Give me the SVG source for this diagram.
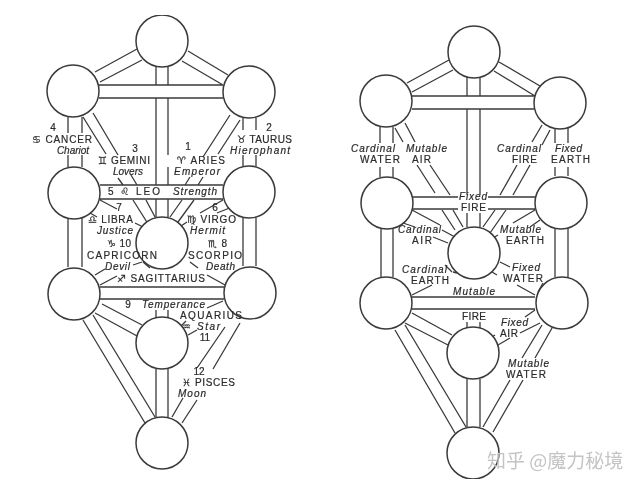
<svg xmlns="http://www.w3.org/2000/svg" width="640" height="488" viewBox="0 0 640 488">
<style>
.bg{fill:#fff}
.n{fill:#fff;stroke:#3a3a3a;stroke-width:1.5}
.c{fill:none;stroke:#3a3a3a;stroke-width:1.3}
text{font-family:"Liberation Sans","DejaVu Sans",sans-serif;font-size:10px;fill:#2a2a2a;stroke:#2a2a2a;stroke-width:.2}
.i{font-style:italic}
.m{text-anchor:middle}
.wm{font-family:"Noto Sans CJK SC",sans-serif;font-size:19px;fill:#c4c4c4;stroke:none}
</style>
<defs><filter id="soft" x="0" y="0" width="100%" height="100%"><feGaussianBlur stdDeviation="0.55"/></filter></defs>
<rect class="bg" width="640" height="488"/>
<g filter="url(#soft)">
<g id="connectors">
<path class="c" d="M95 72L137 49M100 82L142 60M188 51L228 75M182 61L223 85M99 85H223M99 98H223M156 66V85M168 66V85M156 98V185M168 98V155M168 167V185M156 199V217M168 199V217"/>
<path class="c" d="M68 117V133M82 117V133M68 155V167M82 155V167M243 118V130M256 118V130M243 155V166M256 155V166"/>
<path class="c" d="M83 117L106 154M93 113L118 155M118 178L123 185M131 175L137 185M133 200L150 227M146 200L155 217M240 120L218 154M230 115L203 157M203 177L198 185M190 177L185 185M194 200L178 222M182 200L170 217"/>
<path class="c" d="M100 185H223M100 199H223M68 218V267M82 218V267M243 218V266M256 218V266M100 200L117 209M90 213L97 217M135 223L143 227M223 200L200 213M237 205L217 213M187 222L178 228"/>
<path class="c" d="M95 275L105 269M133 265L142 262M100 285L117 276M225 285L207 275M143 262L150 268M190 262L198 268M237 272L232 278M100 287H224M100 299H224M102 304L142 325M95 313L137 336M223 301L207 308M188 335L197 330M181 326L186 321M156 310V318M168 310V318M156 369V417M168 369V417"/>
<path class="c" d="M83 320L145 423M93 315L155 417M240 323L213 369M225 327L197 368M183 398L172 417M197 400L182 423"/>
<path class="c" d="M407 83L449 60M412 92L453 70M499 62L540 86M494 71L535 96M412 96H534M412 109H534M467 77V96M480 77V96M467 109V195M480 109V195M467 213V227M480 213V227"/>
<path class="c" d="M380 127V143M393 127V143M380 167V177M393 167V177M555 127V143M568 127V143M555 167V176M568 167V176"/>
<path class="c" d="M405 123L415 142M430 165L450 195M395 128L403 142M417 165L435 193M442 210L455 230M453 210L463 227M550 130L542 145M542 125L532 142M530 165L513 195M517 165L500 195M506 210L490 233M495 210L483 227"/>
<path class="c" d="M412 197H458M488 197H535M412 209H458M488 209H535M381 228V277M393 228V277M555 228V277M568 228V277M412 210L440 225M400 222L415 227M433 237L448 243M442 230L455 237M535 210L513 223M540 220L530 227M498 235L488 241"/>
<path class="c" d="M412 295L432 285M445 265L452 272M453 272L457 273M500 262L510 267M492 272L497 275M517 285L535 295M538 292L543 283M412 297H535M412 309H535M412 313L452 335M405 323L448 345M535 310L525 317M540 323L520 333M498 345L510 338M495 335L492 337M467 322V330M480 322V330M467 379V427M480 379V427"/>
<path class="c" d="M395 330L455 433M405 325L466 427M552 328L535 358M542 325L522 358M510 380L483 427M523 380L493 432"/>
</g>
<g id="left-top"><circle class="n" cx="162" cy="41" r="26"/></g>
<g id="left-l1"><circle class="n" cx="73" cy="91" r="26"/></g>
<g id="left-r1"><circle class="n" cx="249" cy="92" r="26"/></g>
<g id="left-l2"><circle class="n" cx="74" cy="193" r="26"/></g>
<g id="left-r2"><circle class="n" cx="249" cy="192" r="26"/></g>
<g id="left-center"><circle class="n" cx="162" cy="243" r="26"/></g>
<g id="left-l3"><circle class="n" cx="74" cy="294" r="26"/></g>
<g id="left-r3"><circle class="n" cx="250" cy="293" r="26"/></g>
<g id="left-c4"><circle class="n" cx="162" cy="343" r="26"/></g>
<g id="left-bottom"><circle class="n" cx="162" cy="443" r="26"/></g>
<g id="right-top"><circle class="n" cx="474" cy="52" r="26"/></g>
<g id="right-l1"><circle class="n" cx="386" cy="101" r="26"/></g>
<g id="right-r1"><circle class="n" cx="560" cy="103" r="26"/></g>
<g id="right-l2"><circle class="n" cx="387" cy="203" r="26"/></g>
<g id="right-r2"><circle class="n" cx="561" cy="203" r="26"/></g>
<g id="right-center"><circle class="n" cx="474" cy="253" r="26"/></g>
<g id="right-l3"><circle class="n" cx="386" cy="303" r="26"/></g>
<g id="right-r3"><circle class="n" cx="562" cy="303" r="26"/></g>
<g id="right-c4"><circle class="n" cx="473" cy="353" r="26"/></g>
<g id="right-bottom"><circle class="n" cx="473" cy="453" r="26"/></g>
<g id="labels-left">
<text class="m" x="53" y="131">4</text>
<text x="32" y="143" textLength="60">♋ CANCER</text>
<text class="i m" x="73" y="154">Chariot</text>
<text class="m" x="135" y="152">3</text>
<text x="98" y="164" textLength="52">♊ GEMINI</text>
<text class="i m" x="128" y="175">Lovers</text>
<text class="m" x="188" y="150">1</text>
<text x="177" y="164" textLength="48">♈ ARIES</text>
<text class="i" x="174" y="175" textLength="46">Emperor</text>
<text class="m" x="269" y="131">2</text>
<text x="237" y="143" textLength="55">♉ TAURUS</text>
<text class="i" x="230" y="154" textLength="60">Hierophant</text>
<text x="108" y="195" textLength="52">5  ♌ LEO</text>
<text class="i" x="173" y="195" textLength="44">Strength</text>
<text class="m" x="119" y="211">7</text>
<text x="88" y="223" textLength="45">♎ LIBRA</text>
<text class="i" x="97" y="234" textLength="36">Justice</text>
<text class="m" x="215" y="211">6</text>
<text x="187" y="223" textLength="49">♍ VIRGO</text>
<text class="i" x="190" y="234" textLength="35">Hermit</text>
<text x="107" y="247" textLength="24">♑ 10</text>
<text x="87" y="259" textLength="70">CAPRICORN</text>
<text class="i" x="105" y="270" textLength="25">Devil</text>
<text x="208" y="247" textLength="19">♏ 8</text>
<text x="188" y="259" textLength="54">SCORPIO</text>
<text class="i" x="206" y="270" textLength="29">Death</text>
<text x="117" y="282" textLength="88">♐ SAGITTARIUS</text>
<text class="m" x="128" y="308">9</text>
<text class="i" x="142" y="308" textLength="63">Temperance</text>
<text x="180" y="319" textLength="62">AQUARIUS</text>
<text class="i" x="182" y="330" textLength="38">♒ Star</text>
<text class="m" x="205" y="341">11</text>
<text class="m" x="199" y="375">12</text>
<text x="182" y="386" textLength="53">♓ PISCES</text>
<text class="i" x="178" y="397" textLength="28">Moon</text>
</g>
<g id="labels-right">
<text class="i" x="351" y="152" textLength="44">Cardinal</text>
<text x="360" y="163" textLength="40">WATER</text>
<text class="i" x="406" y="152" textLength="41">Mutable</text>
<text x="412" y="163" textLength="19">AIR</text>
<text class="i" x="497" y="152" textLength="44">Cardinal</text>
<text x="512" y="163" textLength="25">FIRE</text>
<text class="i" x="555" y="152" textLength="27">Fixed</text>
<text x="551" y="163" textLength="39">EARTH</text>
<text class="i" x="459" y="200" textLength="28">Fixed</text>
<text x="461" y="211" textLength="25">FIRE</text>
<text class="i" x="398" y="233" textLength="43">Cardinal</text>
<text x="412" y="244" textLength="20">AIR</text>
<text class="i" x="500" y="233" textLength="41">Mutable</text>
<text x="506" y="244" textLength="38">EARTH</text>
<text class="i" x="402" y="273" textLength="45">Cardinal</text>
<text x="411" y="284" textLength="38">EARTH</text>
<text class="i" x="512" y="271" textLength="28">Fixed</text>
<text x="503" y="282" textLength="40">WATER</text>
<text class="i" x="453" y="295" textLength="42">Mutable</text>
<text x="462" y="320" textLength="24">FIRE</text>
<text class="i" x="501" y="326" textLength="27">Fixed</text>
<text x="500" y="337" textLength="18">AIR</text>
<text class="i" x="508" y="367" textLength="41">Mutable</text>
<text x="506" y="378" textLength="40">WATER</text>
</g>
<text class="wm" x="487" y="468">知乎 @魔力秘境</text>
</g>
</svg>
